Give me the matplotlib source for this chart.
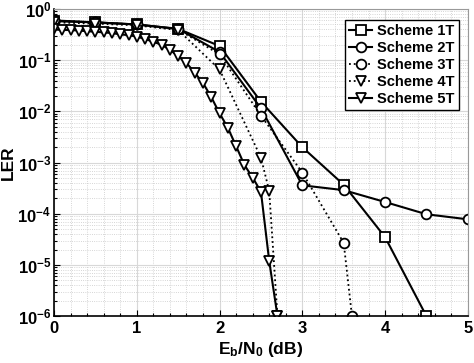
import numpy as np
import matplotlib.pyplot as plt
from matplotlib.ticker import FixedLocator, MultipleLocator, LogLocator, NullFormatter

plt.rcParams['font.family'] = ['Liberation Sans', 'DejaVu Sans']
plt.rcParams['font.weight'] = 'bold'
plt.rcParams['mathtext.fontset'] = 'custom'
plt.rcParams['mathtext.rm'] = 'Liberation Sans:bold'
plt.rcParams['mathtext.bf'] = 'Liberation Sans:bold'
plt.rcParams['mathtext.it'] = 'Liberation Sans:bold'
plt.rcParams['mathtext.default'] = 'bf'

# datos
x_1t = [0, 0.5, 1, 1.5, 2, 2.5, 3, 3.5, 4, 4.5]
ler_1t = [0.58, 0.55, 0.5, 0.41, 0.19, 0.0155, 0.002, 3.7e-4, 3.5e-5, 1e-6]

x_2t = [0, 0.5, 1, 1.5, 2, 2.5, 3, 3.5, 4, 4.5, 5]
ler_2t = [0.6, 0.55, 0.5, 0.41, 0.145, 0.0115, 3.6e-4, 2.9e-4, 1.7e-4, 9.8e-5, 7.8e-5]

x_3t = [0, 0.5, 1, 1.5, 2, 2.5, 3, 3.5, 3.6]
ler_3t = [0.6, 0.55, 0.5, 0.4, 0.13, 0.0083, 6.4e-4, 2.7e-5, 1e-6]

x_4t = [0, 0.5, 1, 1.5, 2, 2.5, 2.6, 2.7]
ler_4t = [0.55, 0.52, 0.48, 0.39, 0.066, 1.25e-3, 2.8e-4, 1e-6]

x_5t = [0, 0.1, 0.2, 0.3, 0.4, 0.5, 0.6, 0.7, 0.8, 0.9, 1.0, 1.1, 1.2, 1.3,
        1.4, 1.5, 1.6, 1.7, 1.8, 1.9, 2.0, 2.1, 2.2, 2.3, 2.4, 2.5, 2.6, 2.7]
ler_5t = [0.4, 0.39, 0.39, 0.38, 0.37, 0.36, 0.35, 0.34, 0.32, 0.31, 0.29,
          0.26, 0.23, 0.2, 0.16, 0.12, 0.089, 0.057, 0.036, 0.019, 0.0092,
          0.0048, 0.0021, 9e-4, 5.1e-4, 2.7e-4, 1.2e-5, 1e-6]

ytick_vals = [1e-6, 1e-5, 1e-4, 1e-3, 1e-2, 1e-1, 1e0]
ytick_labels = [r'$10^{-6}$', r'$10^{-5}$', r'$10^{-4}$', r'$10^{-3}$',
                r'$10^{-2}$', r'$10^{-1}$', r'$10^{0}$']

fig = plt.figure(figsize=(4.74, 3.63), dpi=100)
ax = fig.add_axes([0.114, 0.129, 0.873, 0.846])

mk = dict(markersize=7, markerfacecolor='white', markeredgewidth=1.3, color='black')
ax.semilogy(x_1t, ler_1t, '-s', lw=1.5, label='Scheme 1T', **mk)
ax.semilogy(x_2t, ler_2t, '-o', lw=1.5, label='Scheme 2T', **mk)
ax.semilogy(x_3t, ler_3t, ':o', lw=1.3, label='Scheme 3T', **mk)
ax.semilogy(x_4t, ler_4t, ':v', lw=1.3, label='Scheme 4T', **mk)
ax.semilogy(x_5t, ler_5t, '-v', lw=1.5, label='Scheme 5T', **mk)

ax.set_xlim(0, 5)
ax.set_ylim(1e-6, 1)
ax.xaxis.set_major_locator(MultipleLocator(1))
ax.xaxis.set_minor_locator(MultipleLocator(0.2))
ax.yaxis.set_major_locator(FixedLocator(ytick_vals))
ax.set_yticklabels(ytick_labels)
ax.yaxis.set_minor_locator(LogLocator(base=10, subs=np.arange(2, 10)))
ax.yaxis.set_minor_formatter(NullFormatter())

ax.grid(True, which='major', color='#d8d8d8', lw=0.8, ls='-')
ax.grid(True, which='minor', color='#c8c8c8', lw=0.6, ls=':')
ax.set_axisbelow(True)

ax.tick_params(which='both', direction='in', labelsize=12, width=0.8)
ax.tick_params(axis='y', pad=2)
ax.tick_params(which='major', length=4)
ax.tick_params(which='minor', length=2)
for s in ['top', 'right']:
    ax.spines[s].set_color('#999999')
for s in ['left', 'bottom']:
    ax.spines[s].set_linewidth(1.2)

ax.set_xlabel(r'$E_b/N_0$ (dB)', fontsize=12.5, fontweight='bold', labelpad=3)
ax.set_ylabel('LER', fontsize=12.5, fontweight='bold', labelpad=1)

leg = ax.legend(loc='upper right', bbox_to_anchor=(0.978, 0.965), fontsize=10.5,
                frameon=True, fancybox=False, edgecolor='black', framealpha=1,
                handlelength=1.6, handletextpad=0.3, labelspacing=0.2,
                borderpad=0.3, borderaxespad=0)
leg.get_frame().set_linewidth(1.0)

plt.savefig('out.png', dpi=100)
